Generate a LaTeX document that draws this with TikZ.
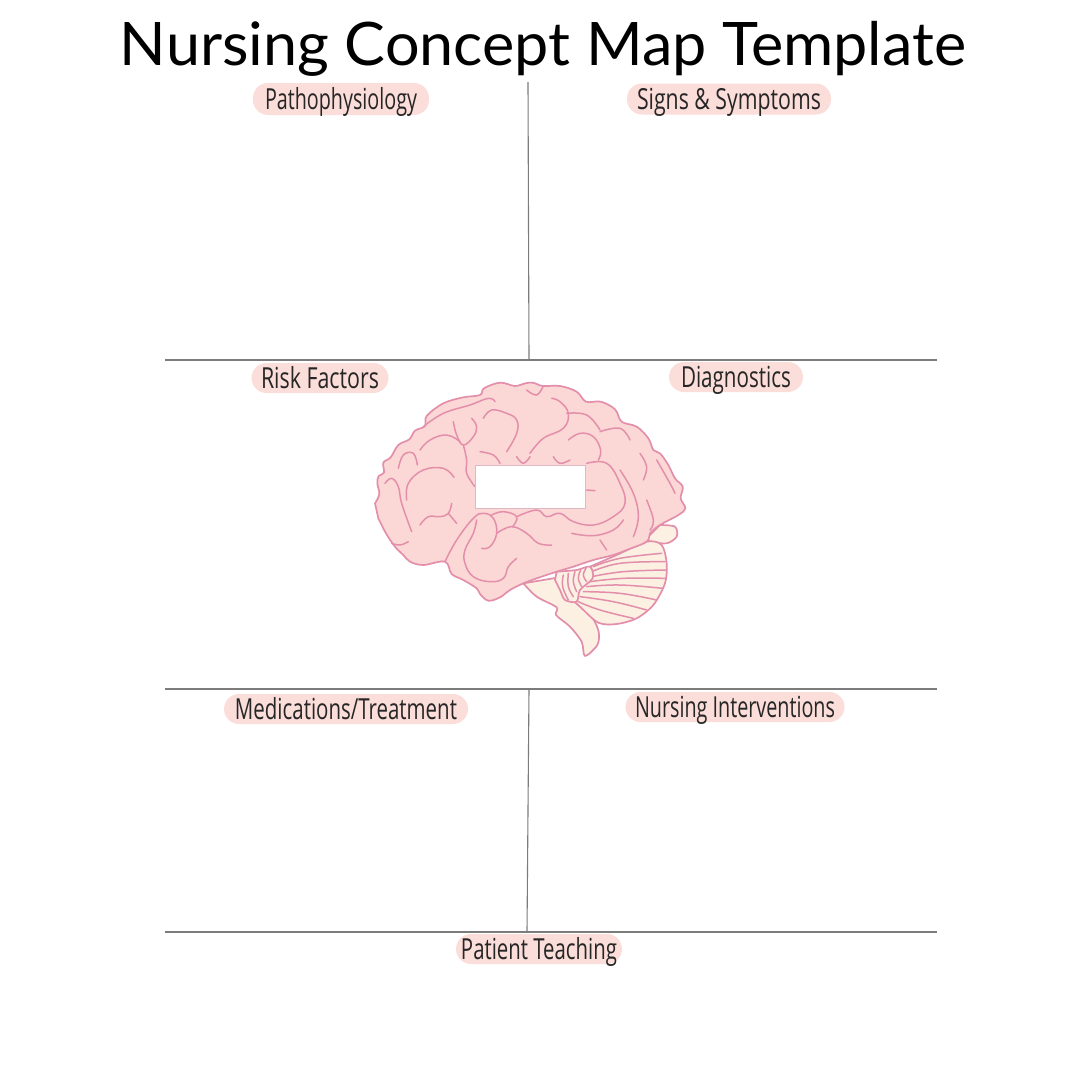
\documentclass[tikz,border=0pt]{standalone}
\usepackage{fontspec}
\setmainfont{Lato}
\newfontfamily\labfont{Open Sans}
\usepackage{graphicx}
\definecolor{pill}{HTML}{FBDDD9}
\definecolor{brainfill}{HTML}{FBD8D5}
\definecolor{brainline}{HTML}{E38FAB}
\definecolor{cream}{HTML}{FBF0E2}
\definecolor{rule}{HTML}{7C7C7C}
\tikzset{
  pilllabel/.style={fill=pill,rounded corners=15pt,inner sep=0pt,text=black!85,anchor=center},
  gridline/.style={draw=rule,line width=1.1pt},
  outline/.style={draw=brainline,line width=1.7pt,line join=round},
  sulcus/.style={draw=brainline,line width=1.5pt,line cap=round}
}
\newcommand{\sul}[1]{\draw[sulcus] plot[smooth,tension=.7] coordinates {#1};}
\newcommand{\lab}[7]{\node[pilllabel,minimum width=#4pt,minimum height=#5pt] (#1) at (#2,#3) {\resizebox{#6pt}{\height}{\raisebox{0pt}[21pt][0pt]{\labfont\fontsize{29pt}{29pt}\selectfont #7}}};}
\begin{document}
\begin{tikzpicture}[x=1pt,y=-1pt]
\useasboundingbox (0,0) rectangle (1080,1080);
\fill[white] (0,0) rectangle (1080,1080);
\node[anchor=base,inner sep=0pt] (title) at (543,65) {\resizebox{846pt}{\height}{\fontsize{60pt}{60pt}\selectfont Nursing Concept Map Template}};

\coordinate (t) at (528,82); \coordinate (m1) at (529,360);
\coordinate (a1) at (165,360); \coordinate (a2) at (937,360);
\coordinate (b1) at (165,689); \coordinate (b2) at (937,689);
\coordinate (c1) at (165,932); \coordinate (c2) at (937,932);
\coordinate (m2) at (529,689); \coordinate (m3) at (527,932);
\draw[gridline] (t) -- (m1);
\draw[gridline] (a1) -- (a2);
\draw[gridline] (b1) -- (b2);
\draw[gridline] (m2) -- (m3);
\draw[gridline] (c1) -- (c2);

\lab{patho}{341}{99}{176}{32}{152}{Pathophysiology}
\lab{signs}{729}{99}{204}{31}{184}{Signs \& Symptoms}
\lab{risk}{320}{378}{137}{30}{118}{Risk Factors}
\lab{diag}{736}{377}{134}{30}{110}{Diagnostics}
\lab{meds}{346}{709}{244}{30}{222}{Medications/Treatment}
\lab{nurs}{735}{707}{219}{30}{200}{Nursing Interventions}
\lab{teach}{539}{949}{166}{30}{156}{Patient Teaching}

\begin{scope}[shift={(360pt,-370pt)},x=.33333pt,y=-.33333pt]
% brainstem and base
\draw[outline,fill=cream] plot[smooth,tension=.5] coordinates {(490,640) (530,680) (590,712) (588,735) (630,770) (665,815) (675,858) (712,825) (716,785) (695,740) (650,695) (610,620)} -- cycle;
% temporal tip
\draw[outline,fill=cream] plot[smooth,tension=.5] coordinates {(900,465) (945,470) (950,500) (920,520) (870,515) (860,505)} -- cycle;
% cerebellum
\draw[outline,fill=cream] plot[smooth,tension=.5] coordinates {(690,590) (770,555) (860,515) (905,525) (920,580) (915,640) (880,705) (830,745) (770,762) (715,758) (660,710) (630,680) (620,630)} -- cycle;
\sul{(700,590) (780,565) (905,550)}
\sul{(695,605) (780,580) (915,575)}
\sul{(695,620) (790,605) (918,600)}
\sul{(690,635) (790,625) (915,625)}
\sul{(680,650) (780,645) (908,655)}
\sul{(670,665) (780,670) (890,690)}
\sul{(660,680) (760,695) (860,720)}
\sul{(655,695) (720,720) (820,745)}
% pons ribs
\draw[outline,fill=cream] plot[smooth,tension=.5] coordinates {(590,605) (650,600) (690,590) (698,625) (660,660) (650,695) (615,690) (600,660) (585,630)} -- cycle;
\sul{(610,615) (608,650) (625,690)}
\sul{(625,610) (625,650) (640,680)}
\sul{(645,605) (640,635) (650,665)}
\sul{(662,600) (655,625) (665,650)}
\sul{(678,595) (670,615) (680,635)}
% cerebrum
\draw[outline,fill=brainfill] plot[smooth,tension=.6] coordinates {
(45,400) (58,372) (52,340) (56,318) (72,308) (70,278) (92,262) (115,225) (148,208) (165,182) (195,168) (200,138) (250,100) (310,82) (360,75) (372,55) (420,38) (465,48) (495,40) (520,38) (548,48) (600,48) (650,65) (678,95) (722,95) (765,118) (785,155) (830,170) (865,205) (880,240) (900,250) (925,285) (945,325) (968,350) (962,385) (976,415) (955,435) (900,465) (870,490) (860,515) (800,540) (760,555) (700,570) (640,590) (590,605) (530,625) (490,640) (450,660) (420,682) (385,692) (360,672) (350,655) (310,630) (275,612) (255,575) (190,585) (150,575) (130,555) (105,530) (78,490) (55,445)} -- cycle;
% sulci
\sul{(190,170) (250,130) (330,105) (385,85) (405,95)}
\sul{(280,155) (290,195) (310,225) (340,200) (350,170) (335,145)}
\sul{(310,225) (320,270) (320,310) (345,350)}
\sul{(180,240) (210,210) (260,195) (300,215)}
\sul{(115,295) (130,255) (160,250) (172,285)}
\sul{(140,390) (145,340) (190,300) (250,295) (282,322)}
\sul{(75,340) (95,325) (115,350) (125,400) (155,485)}
\sul{(180,465) (205,440) (240,440) (265,430) (275,400)}
\sul{(265,430) (290,460)}
\sul{(95,520) (120,525) (145,515)}
\sul{(255,575) (290,510) (340,445) (370,430) (400,445) (410,490) (390,530) (365,535)}
\sul{(350,450) (340,490) (315,540) (315,580) (340,620) (390,635) (430,625) (445,590) (470,565)}
\sul{(410,490) (455,470) (500,490) (535,520) (575,525)}
\sul{(395,435) (430,425) (470,440) (458,470)}
\sul{(470,440) (530,420) (560,440) (600,430) (640,455) (700,465) (760,440) (795,400) (780,340) (740,280) (680,280)}
\sul{(635,490) (700,497) (760,480) (790,450)}
\sul{(720,510) (740,540)}
\sul{(780,300) (820,370) (835,440) (820,500)}
\sul{(860,390) (880,450) (870,480)}
\sul{(720,185) (780,175) (810,210)}
\sul{(840,250) (860,290) (850,330)}
\sul{(890,270) (930,340) (945,370)}
\sul{(625,210) (660,190) (700,200) (722,240) (715,270)}
\sul{(510,250) (550,205) (610,175) (625,130) (600,95) (575,85)}
\sul{(620,130) (680,135) (720,180)}
\sul{(440,245) (470,190) (470,150) (440,130) (395,120) (370,145)}
\sul{(360,245) (400,255) (420,280)}
\sul{(470,260) (490,280) (510,260)}
\sul{(580,260) (600,280) (630,270)}
\sul{(500,60) (530,75) (550,48)}
\sul{(680,360) (705,362)}
\node[draw=brainline!70!gray!60,fill=white,line width=1pt,inner sep=0pt,minimum width=110pt,minimum height=43pt,anchor=north west] (box) at (345,285) {};
\end{scope}
\end{tikzpicture}
\end{document}
